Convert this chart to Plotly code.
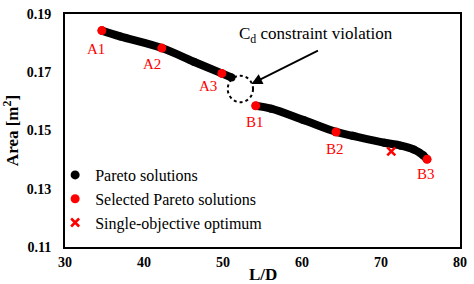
import plotly.graph_objects as go

# Pareto front (two branches separated by the Cd constraint violation)
pareto_a_x = [34.66, 36.99, 42.25, 46.30, 49.85, 51.08]
pareto_a_y = [0.1843, 0.1823, 0.1783, 0.1736, 0.1696, 0.1682]
pareto_b_x = [54.14, 56.10, 60.27, 64.31, 66.40, 70.44, 72.52, 74.12, 75.34, 75.83]
pareto_b_y = [0.1585, 0.1575, 0.1535, 0.1495, 0.1482, 0.1458, 0.1448, 0.1435, 0.1415, 0.1401]

# Selected Pareto solutions
sel_labels = ["A1", "A2", "A3", "B1", "B2", "B3"]
sel_x = [34.66, 42.25, 49.85, 54.14, 64.31, 75.83]
sel_y = [0.1843, 0.1783, 0.1696, 0.1585, 0.1495, 0.1401]

# Single-objective optimum
single_x = [71.30]
single_y = [0.1428]

x_ticks = [30, 40, 50, 60, 70, 80]
y_ticks = [0.11, 0.13, 0.15, 0.17, 0.19]

serif = "Liberation Serif, Times New Roman, serif"
RED = "#ff0000"

fig = go.Figure()

for px, py in [(pareto_a_x, pareto_a_y), (pareto_b_x, pareto_b_y)]:
    fig.add_trace(go.Scatter(
        x=px, y=py, mode="lines+markers",
        line=dict(color="black", width=8, shape="spline"),
        marker=dict(color="black", size=8),
        name="Pareto solutions", legendgroup="pareto", showlegend=False,
    ))
fig.add_trace(go.Scatter(
    x=[None], y=[None], mode="markers",
    marker=dict(color="black", size=9),
    name="Pareto solutions", legendgroup="pareto",
))
fig.add_trace(go.Scatter(
    x=sel_x, y=sel_y, mode="markers",
    marker=dict(color=RED, size=9),
    name="Selected Pareto solutions",
))
fig.add_trace(go.Scatter(
    x=single_x, y=single_y, mode="markers",
    marker=dict(color=RED, size=8, symbol="x-thin", line=dict(color=RED, width=2.5)),
    name="Single-objective optimum",
))

# point labels
offsets = [(-6, -18), (-10, -16), (-14, -13), (-1, -16), (-1, -17), (-1, -15)]
for lab, x, y, (dx, dy) in zip(sel_labels, sel_x, sel_y, offsets):
    fig.add_annotation(x=x, y=y, text=lab, showarrow=False,
                       xshift=dx, yshift=dy,
                       font=dict(family=serif, size=15, color=RED))

# dotted ellipse marking the constraint violation
fig.add_shape(type="circle", xref="x", yref="y",
              x0=50.6, x1=53.8, y0=0.1597, y1=0.1688,
              line=dict(color="black", width=2, dash="dot"))

# annotation arrow (tail offset in pixels from the head)
fig.add_annotation(x=53.6, y=0.1660, ax=68, ay=-34,
                   text="", showarrow=True, arrowhead=2, arrowsize=1.2,
                   arrowwidth=1.8, arrowcolor="black")
fig.add_annotation(x=0.635, y=0.965, xref="paper", yref="paper",
                   text="C<sub>d</sub> constraint violation", showarrow=False,
                   font=dict(family=serif, size=17, color="black"))

# x-axis title placed as in the reference
fig.add_annotation(x=0.5, y=-0.12, xref="paper", yref="paper",
                   text="<b>L/D</b>", showarrow=False, yanchor="middle",
                   font=dict(family=serif, size=17, color="black"))

fig.update_xaxes(range=[30, 80], tickvals=x_ticks,
                 ticktext=[f"<b>{t}</b>" for t in x_ticks],
                 showgrid=False, zeroline=False,
                 showline=True, linecolor="black", linewidth=2, mirror=True,
                 ticks="", ticklabelstandoff=1,
                 tickfont=dict(family=serif, size=14, color="black"))
fig.update_yaxes(range=[0.11, 0.19], tickvals=y_ticks,
                 ticktext=[f"<b>{t:.2f}</b>" for t in y_ticks],
                 showgrid=False, zeroline=False,
                 showline=True, linecolor="black", linewidth=2, mirror=True,
                 ticks="", ticklabelstandoff=9,
                 title=dict(text="<b>Area [m<sup>2</sup>]</b>", standoff=8,
                            font=dict(family=serif, size=17, color="black")),
                 tickfont=dict(family=serif, size=14, color="black"))

fig.update_layout(
    width=474, height=284,
    margin=dict(l=60, r=7, t=7, b=37),
    paper_bgcolor="white", plot_bgcolor="white",
    showlegend=True,
    legend=dict(x=-0.025, y=0.382, xanchor="left", yanchor="top",
                bgcolor="rgba(0,0,0,0)", tracegroupgap=0,
                font=dict(family=serif, size=16, color="black")),
)

fig.write_html("out.html")
